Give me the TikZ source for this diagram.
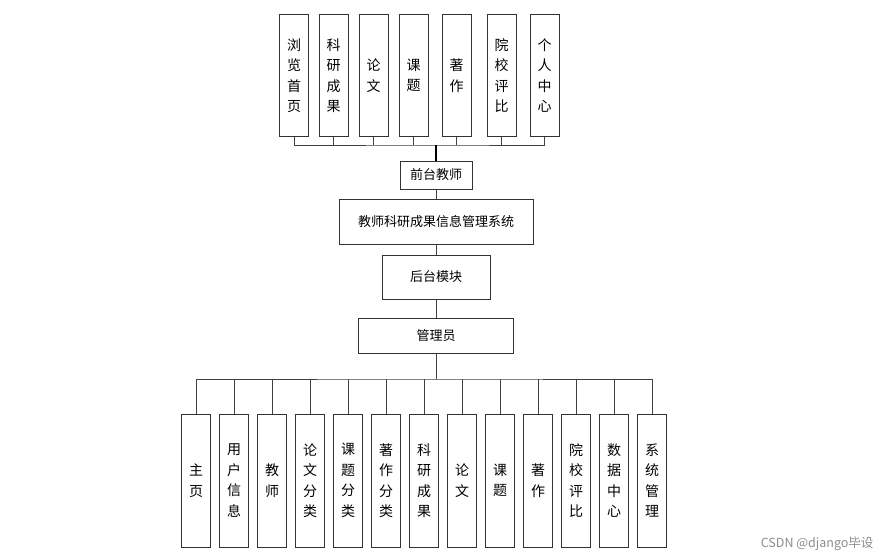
\documentclass[tikz,border=0pt]{standalone}
\usepackage{fontspec}
\setmainfont{Noto Sans CJK SC}
\begin{document}
\begin{tikzpicture}[x=1pt,y=-1pt,
  bx/.style={draw=black!80,line width=0.9pt,fill=white,minimum width=29pt,minimum height=122pt,align=center,font=\fontsize{14}{20.5}\selectfont,inner sep=0pt},
  hb/.style={draw=black!80,line width=0.9pt,fill=white,align=center,font=\fontsize{13}{15}\selectfont,inner sep=0pt},
  ln/.style={draw=black!75,line width=0.8pt}]
\useasboundingbox (0,0) rectangle (881,559);
% top
\foreach \n/\x/\t in {t1/294/浏\\览\\首\\页, t2/333.5/科\\研\\成\\果, t3/373.5/论\\文, t4/413.5/课\\题, t5/456.5/著\\作, t6/501.5/院\\校\\评\\比, t7/544.5/个\\人\\中\\心}
  \node[bx] (\n) at (\x,75.5) {\t};
\node[hb,minimum width=72pt,minimum height=28pt] (qt) at (436,175) {前台教师};
\node[hb,minimum width=194pt,minimum height=45pt] (sys) at (436,221.5) {教师科研成果信息管理系统};
\node[hb,minimum width=108pt,minimum height=44pt] (ht) at (436,277) {后台模块};
\node[hb,minimum width=155pt,minimum height=35pt] (gl) at (436,335.5) {管理员};
\coordinate (tb) at (436,145);
\draw[ln] (t1.south) |- (tb) -| (t7.south);
\foreach \n in {t2,t3,t4,t5,t6} \draw[ln] (\n.south) -- (\n.south |- tb);
\draw[black,line width=1.6pt] (tb) -- (qt.north);
\draw[ln] (qt) -- (sys) (sys) -- (ht) (ht) -- (gl);
% bottom
\foreach \n/\i/\t in {b1/0/主\\页, b2/1/用\\户\\信\\息, b3/2/教\\师, b4/3/论\\文\\分\\类, b5/4/课\\题\\分\\类, b6/5/著\\作\\分\\类, b7/6/科\\研\\成\\果, b8/7/论\\文, b9/8/课\\题, b10/9/著\\作, b11/10/院\\校\\评\\比, b12/11/数\\据\\中\\心, b13/12/系\\统\\管\\理}
  \node[bx,minimum height=133pt] (\n) at ({196+38*\i},480.5) {\t};
\coordinate (bb) at (436,379);
\draw[ln] (gl.south) -- (bb);
\draw[ln] (b1.north) |- (bb) -| (b13.north);
\foreach \n in {b2,b3,b4,b5,b6,b7,b8,b9,b10,b11,b12} \draw[ln] (\n.north) -- (\n.north |- bb);
\node[font=\fontsize{12.5}{14}\selectfont,text=black!45,anchor=east] (wm) at (877,544) {CSDN @django毕设};
\end{tikzpicture}
\end{document}
